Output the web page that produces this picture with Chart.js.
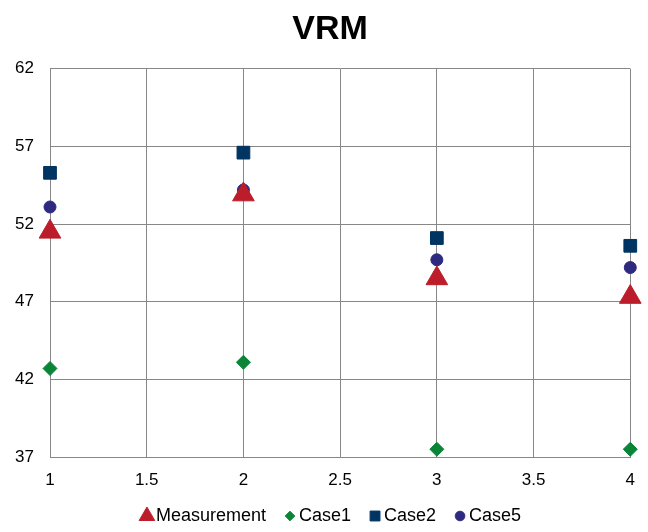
<!DOCTYPE html>
<html>
<head>
<meta charset="utf-8">
<script src="https://cdn.jsdelivr.net/npm/chart.js@4"></script>
<style>
  body { margin: 0; background: #fff; }
  #wrap { width: 648px; height: 532px; }
</style>
</head>
<body>
<div id="wrap"><canvas id="scatter" width="648" height="532"></canvas></div>
<script>
// values
var xValues = [1, 2, 3, 4];
var measurement = [51.5, 53.9, 48.5, 47.3];
var case1 = [42.7, 43.1, 37.5, 37.5];
var case2 = [55.3, 56.6, 51.1, 50.6];
var case5 = [53.1, 54.2, 49.7, 49.2];
var yTicks = [37, 42, 47, 52, 57, 62];

var FONT = "'Liberation Sans', Arial, sans-serif";
var GRID = "#878787";

function toPoints(liste){
	var result = [];
	for (var i = 0; i < xValues.length; i++){
		result.push({ x: xValues[i], y: liste[i] });
	}
	return result;
}

function serie(label, values, style, color, radius, legendRadius){
	return {
		label : label,
		data : toPoints(values),
		pointStyle : style,
		pointRadius : radius,
		pointHoverRadius : radius,
		backgroundColor : color,
		borderColor : color,
		borderWidth : 1,
		showLine : false,
		clip : false,
		legendRadius : legendRadius
	};
}

// small legend icon, drawn with Chart's own drawPoint, shape sits right of the box centre
function legendIcon(ds){
	var c = document.createElement("canvas");
	c.width = 40;
	c.height = 24;
	var g = c.getContext("2d");
	g.fillStyle = ds.backgroundColor;
	g.strokeStyle = ds.borderColor;
	g.lineWidth = 1;
	Chart.helpers.drawPoint(g, { pointStyle : ds.pointStyle, radius : ds.legendRadius, borderWidth : 1, rotation : 0 }, 24, 12);
	return c;
}

var ctx = document.getElementById("scatter").getContext("2d");

var chart = new Chart(ctx, {
	type : 'scatter',
	data : {
		datasets : [
			serie("Measurement", measurement, 'triangle', "#BC1D2A", 12.5, 9),
			serie("Case1", case1, 'rectRot', "#0A8537", 7, 4.8),
			serie("Case2", case2, 'rect', "#003462", 9, 7),
			serie("Case5", case5, 'circle', "#2D2A80", 6, 4.8)
		]
	},
	options : {
		responsive : false,
		animation : false,
		layout : { padding : { left : 12, right : 0, top : 0, bottom : 0 } },
		plugins : {
			title : {
				display : true,
				text : "VRM",
				color : "#000",
				font : { family : FONT, size : 34, weight : 'bold' },
				padding : { top : 9, bottom : 19 }
			},
			legend : {
				position : 'bottom',
				maxHeight : 41,
				labels : {
					usePointStyle : true,
					boxWidth : 8,
					boxHeight : 8,
					padding : 16,
					color : "#000",
					font : { family : FONT, size : 18, lineHeight : 1 },
					generateLabels : function(chart){
						var items = Chart.defaults.plugins.legend.labels.generateLabels(chart);
						items.forEach(function(item){
							item.pointStyle = legendIcon(chart.data.datasets[item.datasetIndex]);
						});
						return items;
					}
				}
			},
			tooltip : { enabled : false }
		},
		scales : {
			x : {
				type : 'linear',
				min : 1,
				max : 4,
				ticks : {
					stepSize : 0.5,
					color : "#000",
					padding : 13,
					font : { family : FONT, size : 17 },
					callback : function(v){ return String(v); }
				},
				grid : { color : GRID, drawTicks : false },
				border : { color : GRID },
				afterFit : function(scale){ scale.height = 34; }
			},
			y : {
				min : 37,
				max : 62,
				afterBuildTicks : function(scale){
					scale.ticks = yTicks.map(function(v){ return { value : v }; });
				},
				ticks : { color : "#000", padding : 16, font : { family : FONT, size : 17 } },
				grid : { color : GRID, drawTicks : false },
				border : { color : GRID },
				afterFit : function(scale){ scale.width = 38; }
			},
			// empty strip on the right so the plot ends where the reference does
			yRight : {
				position : 'right',
				min : 37,
				max : 62,
				ticks : { display : false },
				grid : { display : false },
				border : { display : false },
				afterFit : function(scale){ scale.width = 16; }
			}
		}
	}
});
</script>
</body>
</html>
